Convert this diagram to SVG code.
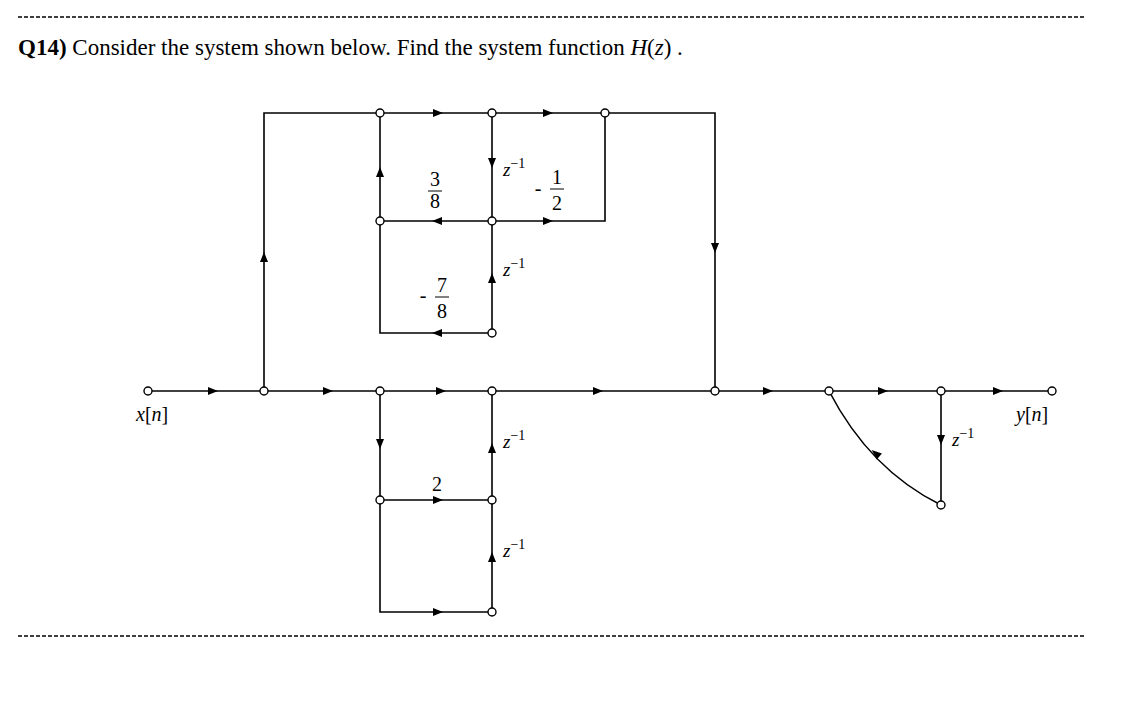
<svg xmlns="http://www.w3.org/2000/svg" width="1124" height="726" viewBox="0 0 1124 726">
<style>
.l{fill:none;stroke:#000;stroke-width:1.6}
.n{fill:#fff;stroke:#000;stroke-width:1.4}
.d{stroke:#000;stroke-width:1.3;stroke-dasharray:4 2}
text{font-family:"Liberation Serif",serif;fill:#000}
text.z{font-size:19px;font-style:italic}
text.f{font-size:20px}
tspan.e{font-size:14px;font-style:normal}
</style>
<defs>
<path id="ar" d="M-7,-4 L3,0 L-7,4 Z" fill="#000"/>
</defs>
<rect width="1124" height="726" fill="#fff"/>
<line class="d" x1="18" y1="17" x2="1084" y2="17"/>
<line class="d" x1="18" y1="636" x2="1084" y2="636"/>
<text x="18" y="55" font-size="23"><tspan font-weight="bold">Q14)</tspan> Consider the system shown below. Find the system function  <tspan font-style="italic">H</tspan>(<tspan font-style="italic">z</tspan>) .</text>
<g id="connectors">
<path class="l" d="M148,391 H1052"/>
<path class="l" d="M264,391 V113 H715 V391"/>
<path class="l" d="M380,113 V221"/>
<path class="l" d="M492,113 V333 H380 V221 H605 V113"/>
<path class="l" d="M380,391 V612 H492 V391"/>
<path class="l" d="M380,500 H492"/>
<path class="l" d="M941,391 V505"/>
<path class="l" d="M829,391 Q870,470 941,505"/>
<use href="#ar" transform="translate(215,391)"/>
<use href="#ar" transform="translate(330,391)"/>
<use href="#ar" transform="translate(443,391)"/>
<use href="#ar" transform="translate(600,391)"/>
<use href="#ar" transform="translate(770,391)"/>
<use href="#ar" transform="translate(885,391)"/>
<use href="#ar" transform="translate(1000,391)"/>
<use href="#ar" transform="translate(264,255) rotate(-90)"/>
<use href="#ar" transform="translate(380,170) rotate(-90)"/>
<use href="#ar" transform="translate(440,113)"/>
<use href="#ar" transform="translate(550,113)"/>
<use href="#ar" transform="translate(492,165) rotate(90)"/>
<use href="#ar" transform="translate(435,221) rotate(180)"/>
<use href="#ar" transform="translate(550,221)"/>
<use href="#ar" transform="translate(492,276) rotate(-90)"/>
<use href="#ar" transform="translate(435,333) rotate(180)"/>
<use href="#ar" transform="translate(715,250) rotate(90)"/>
<use href="#ar" transform="translate(380,446) rotate(90)"/>
<use href="#ar" transform="translate(440,500)"/>
<use href="#ar" transform="translate(492,446) rotate(-90)"/>
<use href="#ar" transform="translate(492,555) rotate(-90)"/>
<use href="#ar" transform="translate(440,612)"/>
<use href="#ar" transform="translate(941,442) rotate(90)"/>
<use href="#ar" transform="translate(874,452) rotate(-140)"/>
</g>
<g id="nodes">
<circle class="n" cx="148" cy="391" r="4"/>
<circle class="n" cx="264" cy="391" r="4"/>
<circle class="n" cx="380" cy="391" r="4"/>
<circle class="n" cx="492" cy="391" r="4"/>
<circle class="n" cx="715" cy="391" r="4"/>
<circle class="n" cx="829" cy="391" r="4"/>
<circle class="n" cx="941" cy="391" r="4"/>
<circle class="n" cx="1052" cy="391" r="4"/>
<circle class="n" cx="380" cy="113" r="4"/>
<circle class="n" cx="492" cy="113" r="4"/>
<circle class="n" cx="605" cy="113" r="4"/>
<circle class="n" cx="380" cy="221" r="4"/>
<circle class="n" cx="492" cy="221" r="4"/>
<circle class="n" cx="492" cy="333" r="4"/>
<circle class="n" cx="380" cy="500" r="4"/>
<circle class="n" cx="492" cy="500" r="4"/>
<circle class="n" cx="492" cy="612" r="4"/>
<circle class="n" cx="941" cy="505" r="4"/>
</g>
<g id="labels">
<text x="136" y="421" class="f"><tspan font-style="italic">x</tspan>[<tspan font-style="italic">n</tspan>]</text>
<text x="1016" y="421" class="f"><tspan font-style="italic">y</tspan>[<tspan font-style="italic">n</tspan>]</text>
<text x="435" y="186" class="f" text-anchor="middle">3</text>
<line x1="428" y1="191" x2="442" y2="191" stroke="#000"/>
<text x="435" y="208" class="f" text-anchor="middle">8</text>
<text x="557" y="184" class="f" text-anchor="middle">1</text>
<line x1="550" y1="189" x2="564" y2="189" stroke="#000"/>
<text x="557" y="210" class="f" text-anchor="middle">2</text>
<text x="538" y="195" class="f" text-anchor="middle">-</text>
<text x="442" y="292" class="f" text-anchor="middle">7</text>
<line x1="435" y1="297" x2="449" y2="297" stroke="#000"/>
<text x="442" y="318" class="f" text-anchor="middle">8</text>
<text x="423" y="302" class="f" text-anchor="middle">-</text>
<text x="437" y="491" class="f" text-anchor="middle">2</text>
<text x="503" y="176" class="z">z<tspan class="e" dy="-8">−1</tspan></text>
<text x="503" y="276" class="z">z<tspan class="e" dy="-8">−1</tspan></text>
<text x="503" y="448" class="z">z<tspan class="e" dy="-8">−1</tspan></text>
<text x="503" y="557" class="z">z<tspan class="e" dy="-8">−1</tspan></text>
<text x="952" y="446" class="z">z<tspan class="e" dy="-8">−1</tspan></text>
</g>
</svg>
